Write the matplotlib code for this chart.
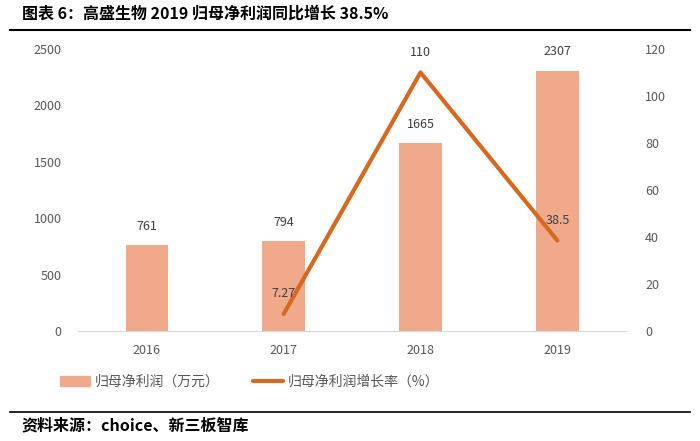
import matplotlib.pyplot as plt
from matplotlib.lines import Line2D

plt.rcParams['font.family'] = ['Noto Sans CJK SC', 'DejaVu Sans']

years = ['2016', '2017', '2018', '2019']
profit = [761, 794, 1665, 2307]
growth_years = ['2017', '2018', '2019']
growth = [7.27, 110, 38.5]
growth_labels = ['7.27', '110', '38.5']

bar_color = '#F0A98A'
line_color = '#D5691F'
text_color = '#595959'

fig = plt.figure(figsize=(7, 4.41), dpi=100)
ax = fig.add_axes([0.112, 0.2494, 0.782, 0.6396])
ax2 = ax.twinx()

x = list(range(len(years)))
ax.bar(x, profit, width=0.31, color=bar_color, zorder=2)
for xi, v in zip(x, profit):
    ax.annotate(str(v), (xi, v), xytext=(0, 9), textcoords='offset points',
                ha='center', va='bottom', fontsize=9, color='#404040')

gx = [years.index(y) for y in growth_years]
ax2.plot(gx, growth, color=line_color, lw=3, solid_capstyle='round', zorder=3)
for xi, v, lab in zip(gx, growth, growth_labels):
    ax2.annotate(lab, (xi, v), xytext=(0, 10), textcoords='offset points',
                 ha='center', va='bottom', fontsize=9, color='#404040')

ax.set_xlim(-0.5, 3.5)
ax.set_ylim(0, 2500)
ax2.set_ylim(0, 120)
ax.set_yticks(range(0, 2501, 500))
ax2.set_yticks(range(0, 121, 20))
ax.set_xticks(x)
ax.set_xticklabels(years)

for a in (ax, ax2):
    for s in a.spines.values():
        s.set_visible(False)
    a.tick_params(length=0, labelsize=9, labelcolor=text_color)
ax.spines['bottom'].set_visible(True)
ax.spines['bottom'].set_color('#D9D9D9')
ax.tick_params(axis='x', pad=9)
ax.tick_params(axis='y', pad=12)
ax2.tick_params(axis='y', pad=14)

handles = [plt.Rectangle((0, 0), 1, 1, color=bar_color),
           Line2D([0], [0], color=line_color, lw=3, solid_capstyle='round')]
fig.legend(handles, ['归母净利润（万元）', '归母净利润增长率（%）'],
           loc='center', bbox_to_anchor=(0.356, 0.134), ncol=2, frameon=False,
           fontsize=10, labelcolor=text_color, handlelength=2.2,
           handletextpad=0.3, columnspacing=2.4)

fig.text(0.031, 0.968, '图表 6：高盛生物 2019 归母净利润同比增长 38.5%',
         fontsize=11.5, fontweight='bold', va='center', ha='left')
fig.add_artist(Line2D([0.014, 0.986], [0.932, 0.932], color='black', lw=1.5))
fig.add_artist(Line2D([0.014, 0.986], [0.066, 0.066], color='black', lw=1.2))
fig.text(0.031, 0.036, '资料来源：choice、新三板智库',
         fontsize=11.5, fontweight='bold', va='center', ha='left')

fig.savefig('out.png', dpi=100)
